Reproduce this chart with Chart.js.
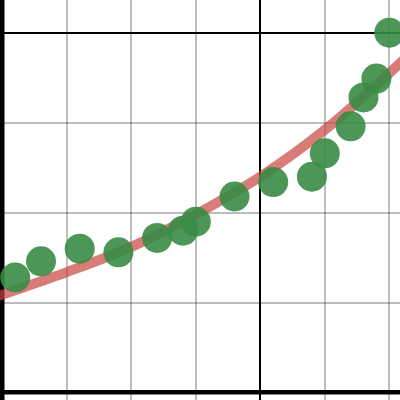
<!DOCTYPE html>
<html>
<head>
<meta charset="utf-8">
<script src="https://cdn.jsdelivr.net/npm/chart.js@4"></script>
<style>
  html, body { margin: 0; padding: 0; background: #fff; }
  #box { width: 400px; height: 400px; }
</style>
</head>
<body>
<div id="box"><canvas id="plot" width="400" height="400"></canvas></div>
<script>
const pointX = [-3.8, -3.4, -2.8, -2.2, -1.6, -1.2, -1.0, -0.4, 0.2, 0.8, 1.0, 1.4, 1.6, 1.8, 2.0];
const pointY = [-2.72, -2.54, -2.40, -2.44, -2.28, -2.20, -2.10, -1.82, -1.66, -1.60, -1.34, -1.04, -0.72, -0.51, 0.00];

// fitted curve at the grid lines
const curveX = [-4.2, -4.0, -3.0, -2.0, -1.0, 0.0, 1.0, 2.0, 2.3];
const curveY = [-2.96, -2.91, -2.66, -2.38, -2.02, -1.60, -1.08, -0.45, -0.25];

const xTicks = [-4, -3, -2, -1, 0, 1, 2];
const yTicks = [-4, -3, -2, -1, 0];

function gridColor(c) {
  const v = c.tick.value;
  if (v === 0 || v === -4) return '#000';
  return 'rgba(0,0,0,0.26)';
}
function gridWidth(c) {
  return c.tick.value === -4 ? 4.5 : 2;
}

const ctx = document.getElementById('plot');

new Chart(ctx, {
  type: 'scatter',
  data: {
    datasets: [
      {
        label: 'data',
        data: pointX.map((x, i) => ({ x: x, y: pointY[i] })),
        backgroundColor: 'rgba(56,140,70,0.9)',
        borderWidth: 0,
        pointRadius: 15,
        pointHoverRadius: 15
      },
      {
        label: 'fit',
        type: 'line',
        data: curveX.map((x, i) => ({ x: x, y: curveY[i] })),
        borderColor: 'rgba(199,68,64,0.7)',
        borderWidth: 10,
        pointRadius: 0,
        cubicInterpolationMode: 'monotone',
        fill: false
      }
    ]
  },
  options: {
    responsive: false,
    animation: false,
    layout: { padding: 0, autoPadding: false },
    plugins: {
      legend: { display: false },
      tooltip: { enabled: false }
    },
    scales: {
      x: {
        type: 'linear',
        min: -4.036,
        max: 2.166,
        afterBuildTicks: s => { s.ticks = xTicks.map(v => ({ value: v })); },
        ticks: { display: false },
        border: { display: false },
        grid: { drawTicks: false, color: gridColor, lineWidth: gridWidth }
      },
      y: {
        type: 'linear',
        min: -4.081,
        max: 0.363,
        afterBuildTicks: s => { s.ticks = yTicks.map(v => ({ value: v })); },
        ticks: { display: false },
        border: { display: false },
        grid: { drawTicks: false, color: gridColor, lineWidth: gridWidth }
      }
    }
  }
});
</script>
</body>
</html>
